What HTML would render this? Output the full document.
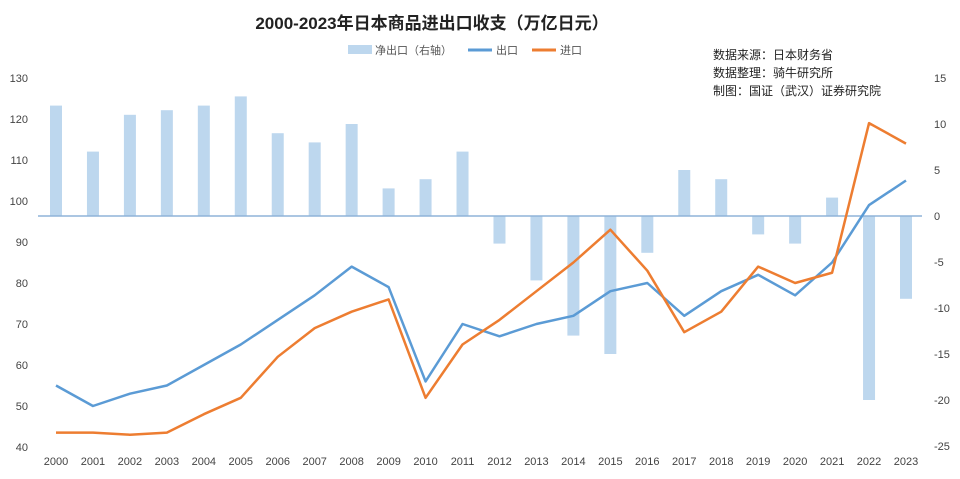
<!DOCTYPE html>
<html><head><meta charset="utf-8"><style>
body{margin:0;background:#fff;font-family:"Liberation Sans","Noto Sans CJK SC",sans-serif;}
</style></head><body>
<svg id="c" width="960" height="474" xmlns="http://www.w3.org/2000/svg" style="font-family:'Liberation Sans','Noto Sans CJK SC',sans-serif">
<text x="432" y="29" text-anchor="middle" font-size="17" font-weight="bold" fill="#222">2000-2023年日本商品进出口收支（万亿日元）</text>
<g font-size="11" fill="#555">
<rect x="348" y="45" width="24" height="9" fill="#bdd7ee"/>
<text x="375" y="54">净出口（右轴）</text>
<line x1="468" y1="50" x2="492" y2="50" stroke="#5b9bd5" stroke-width="3"/>
<text x="496" y="54">出口</text>
<line x1="532" y1="50" x2="556" y2="50" stroke="#ed7d31" stroke-width="3"/>
<text x="560" y="54">进口</text>
</g>
<g font-size="12" fill="#222">
<text x="713" y="59">数据来源：日本财务省</text>
<text x="713" y="77">数据整理：骑牛研究所</text>
<text x="713" y="95">制图：国证（武汉）证券研究院</text>
</g>
<g id="plot"></g>
</svg>
<script>
const years=["2000","2001","2002","2003","2004","2005","2006","2007","2008","2009","2010","2011","2012","2013","2014","2015","2016","2017","2018","2019","2020","2021","2022","2023"];
const exportVals=[55,50,53,55,60,65,71,77,84,79,56,70,67,70,72,78,80,72,78,82,77,85,99,105];
const importVals=[43.5,43.5,43,43.5,48,52,62,69,73,76,52,65,71,78,85,93,83,68,73,84,80,82.5,119,114];
const netVals=[12,7,11,11.5,12,13,9,8,10,3,4,7,-3,-7,-13,-15,-4,5,4,-2,-3,2,-20,-9];
const leftTicks=[40,50,60,70,80,90,100,110,120,130];
const rightTicks=[-25,-20,-15,-10,-5,0,5,10,15];
const NS="http://www.w3.org/2000/svg";
const g=document.getElementById('plot');
const xS=i=>56+i*(850/23);
const yL=v=>447-(v-40)*4.1;
const yR=v=>216-v*9.2;
function mk(t,a,p){const e=document.createElementNS(NS,t);for(const k in a)e.setAttribute(k,a[k]);(p||g).appendChild(e);return e;}
leftTicks.forEach(v=>{const t=mk('text',{x:28,y:yL(v)+4,'text-anchor':'end','font-size':11,fill:'#444'});t.textContent=v;

});
rightTicks.forEach(v=>{const t=mk('text',{x:934,y:yR(v)+4,'text-anchor':'start','font-size':11,fill:'#444'});t.textContent=v;

});
years.forEach((y,i)=>{const t=mk('text',{x:xS(i),y:465,'text-anchor':'middle','font-size':11,fill:'#444'});t.textContent=y;

});
netVals.forEach((v,i)=>{const y0=yR(0),y1=yR(v);const r=mk('rect',{x:xS(i)-6,y:Math.min(y0,y1),width:12,height:Math.abs(y1-y0),fill:'#bdd7ee'});

});
const zl=mk('line',{x1:38,x2:922,y1:yR(0),y2:yR(0),stroke:'#8fb4d9','stroke-width':1.5});


function line(vals,col,name){const p=mk('polyline',{points:vals.map((v,i)=>xS(i)+','+yL(v)).join(' '),fill:'none',stroke:col,'stroke-width':2.5,'stroke-linejoin':'round'});

}
line(exportVals,'#5b9bd5','export-line');
line(importVals,'#ed7d31','import-line');
</script>
</body></html>
